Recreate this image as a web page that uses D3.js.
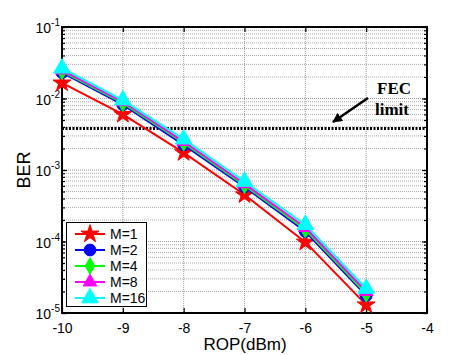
<!DOCTYPE html>
<html><head><meta charset="utf-8">
<script src="https://cdn.jsdelivr.net/npm/d3@7"></script>
<style>body{margin:0;background:#fff}svg{display:block}</style>
</head><body>
<script>
const rop = [-10, -9, -8, -7, -6, -5];
const seriesNames = ["M=1", "M=2", "M=4", "M=8", "M=16"];
const berM1  = [1.65e-2, 6.0e-3, 1.75e-3, 4.5e-4, 9.8e-5, 1.3e-5];
const berM2  = [2.3e-2, 8.2e-3, 2.25e-3, 5.8e-4, 1.38e-4, 1.75e-5];
const berM4  = [2.4e-2, 8.6e-3, 2.4e-3, 6.1e-4, 1.47e-4, 1.85e-5];
const berM8  = [2.5e-2, 9.0e-3, 2.5e-3, 6.4e-4, 1.57e-4, 2.0e-5];
const berM16 = [2.65e-2, 9.5e-3, 2.7e-3, 6.9e-4, 1.72e-4, 2.2e-5];
const xTicks = [-10, -9, -8, -7, -6, -5, -4];
const yTickExps = [-1, -2, -3, -4, -5];
const fecLimit = 3.8e-3;

const colors = ["#ff0000", "#0000ff", "#00ff00", "#ff00ff", "#00ffff"];
const shapes = ["star", "circle", "diamond", "triangle", "triangle"];
const msizes = [100, 110, 80, 80, 120];
const allSeries = [berM1, berM2, berM4, berM8, berM16];

const W = 474, H = 355;
const m = {l: 62, r: 47, t: 27, b: 42};
const svg = d3.select("body").append("svg").attr("width", W).attr("height", H);
const x = d3.scaleLinear().domain([-10, -4]).range([m.l, W - m.r]);
const y = d3.scaleLog().domain([1e-5, 1e-1]).range([H - m.b, m.t]);

// grid minor
const minorVals = [];
for (let e = -5; e < -1; e++) for (let k = 2; k <= 9; k++) minorVals.push(k * Math.pow(10, e));
const g = svg.append("g");
g.selectAll(".ymin").data(minorVals).join("line")
  .attr("x1", m.l).attr("x2", W - m.r).attr("y1", d => y(d)).attr("y2", d => y(d))
  .attr("stroke", "#aaa").attr("stroke-width", 1).attr("stroke-dasharray", "1,1");
g.selectAll(".ymaj").data(yTickExps.map(e => Math.pow(10, e))).join("line")
  .attr("x1", m.l).attr("x2", W - m.r).attr("y1", d => y(d)).attr("y2", d => y(d))
  .attr("stroke", "#999").attr("stroke-width", 1).attr("stroke-dasharray", "1,1");
g.selectAll(".xmaj").data(xTicks).join("line")
  .attr("x1", d => x(d)).attr("x2", d => x(d)).attr("y1", m.t).attr("y2", H - m.b)
  .attr("stroke", "#999").attr("stroke-width", 1).attr("stroke-dasharray", "1,1");

// FEC line
svg.append("line").attr("x1", m.l).attr("x2", W - m.r).attr("y1", y(fecLimit)).attr("y2", y(fecLimit))
  .attr("stroke", "#000").attr("stroke-width", 3).attr("stroke-dasharray", "2,1.5");

// axes ticks (inside)
const axB = d3.axisBottom(x).tickValues(xTicks).tickSize(-5).tickFormat(d => d);
const axT = d3.axisTop(x).tickValues(xTicks).tickSize(-5).tickFormat("");
const yAll = minorVals.concat(yTickExps.map(e => Math.pow(10, e)));
const axL = d3.axisLeft(y).tickValues(yAll).tickSize(-3).tickFormat("");
const axR = d3.axisRight(y).tickValues(yAll).tickSize(-3).tickFormat("");
const axL2 = d3.axisLeft(y).tickValues(yTickExps.map(e => Math.pow(10, e))).tickSize(-5).tickFormat("");
const axR2 = d3.axisRight(y).tickValues(yTickExps.map(e => Math.pow(10, e))).tickSize(-5).tickFormat("");
function styleAx(sel) {
  sel.select(".domain").remove();
  sel.selectAll("line").attr("stroke", "#000").attr("stroke-width", 1.2);
  sel.selectAll("text").attr("font-family", "Arial, Liberation Sans, sans-serif").attr("font-size", 14).attr("fill", "#000");
}
svg.append("g").attr("transform", `translate(0,${H - m.b})`).call(axB).call(styleAx)
  .selectAll("text").attr("y", 10).attr("dy", "0.71em");
svg.append("g").attr("transform", `translate(0,${m.t})`).call(axT).call(styleAx);
svg.append("g").attr("transform", `translate(${m.l},0)`).call(axL).call(styleAx);
svg.append("g").attr("transform", `translate(${W - m.r},0)`).call(axR).call(styleAx);
svg.append("g").attr("transform", `translate(${m.l},0)`).call(axL2).call(styleAx);
svg.append("g").attr("transform", `translate(${W - m.r},0)`).call(axR2).call(styleAx);

// y tick labels 10^e
const yl = svg.append("g").selectAll("text").data(yTickExps).join("text")
  .attr("x", m.l - 2).attr("y", d => y(Math.pow(10, d)) + 6)
  .attr("text-anchor", "end")
  .attr("font-family", "Arial, Liberation Sans, sans-serif").attr("font-size", 14);
yl.append("tspan").text("10");
yl.append("tspan").attr("dy", -7).attr("font-size", 10).text(d => d);

// frame
svg.append("rect").attr("x", m.l).attr("y", m.t).attr("width", W - m.r - m.l).attr("height", H - m.b - m.t)
  .attr("fill", "none").attr("stroke", "#000").attr("stroke-width", 2);

// lines
const line = d3.line().x((d, i) => x(rop[i])).y(d => y(d));
function sym(i) {
  const s = shapes[i];
  const t = s === "star" ? d3.symbolStar : s === "circle" ? d3.symbolCircle : s === "diamond" ? d3.symbolDiamond : d3.symbolTriangle;
  return d3.symbol().type(t).size(msizes[i])();
}
allSeries.forEach((ser, i) => {
  svg.append("path").attr("d", line(ser)).attr("fill", "none").attr("stroke", colors[i]).attr("stroke-width", 2);
  svg.append("g").selectAll("path").data(ser).join("path")
    .attr("d", sym(i))
    .attr("transform", (d, j) => `translate(${x(rop[j])},${y(d)})`)
    .attr("fill", colors[i]).attr("stroke", colors[i]).attr("stroke-width", 1);
});

// FEC annotation
svg.append("defs").append("marker").attr("id", "ah").attr("viewBox", "0 0 10 10")
  .attr("refX", 9).attr("refY", 5).attr("markerWidth", 4).attr("markerHeight", 4).attr("orient", "auto")
  .append("path").attr("d", "M0,0L10,5L0,10z").attr("fill", "#000");
svg.append("line").attr("x1", 368).attr("y1", 98).attr("x2", 333).attr("y2", 122)
  .attr("stroke", "#000").attr("stroke-width", 2.5).attr("marker-end", "url(#ah)");
const ft = svg.append("g").attr("font-family", "Liberation Serif, Times New Roman, serif")
  .attr("font-weight", "bold").attr("font-size", 17).attr("text-anchor", "middle");
ft.append("text").attr("x", 394).attr("y", 94).text("FEC");
ft.append("text").attr("x", 392).attr("y", 115).text("limit");

// axis titles
svg.append("text").attr("x", 245).attr("y", 350).attr("text-anchor", "middle")
  .attr("font-family", "Arial, Liberation Sans, sans-serif").attr("font-size", 17).text("ROP(dBm)");
svg.append("text").attr("transform", `translate(30,${(m.t + H - m.b) / 2}) rotate(-90)`).attr("text-anchor", "middle")
  .attr("font-family", "Arial, Liberation Sans, sans-serif").attr("font-size", 18).text("BER");

// legend
const lg = svg.append("g");
lg.append("rect").attr("x", 66.5).attr("y", 222.5).attr("width", 80).attr("height", 84)
  .attr("fill", "#fff").attr("stroke", "#000").attr("stroke-width", 1);
seriesNames.forEach((n, i) => {
  const yy = 234 + i * 16;
  lg.append("line").attr("x1", 75).attr("x2", 105).attr("y1", yy).attr("y2", yy).attr("stroke", colors[i]).attr("stroke-width", 2);
  lg.append("path").attr("d", sym(i)).attr("transform", `translate(90,${yy})`).attr("fill", colors[i]).attr("stroke", colors[i]);
  lg.append("text").attr("x", 110).attr("y", yy + 5).attr("font-family", "Arial, Liberation Sans, sans-serif")
    .attr("font-size", 14).text(n);
});
</script>
</body></html>
